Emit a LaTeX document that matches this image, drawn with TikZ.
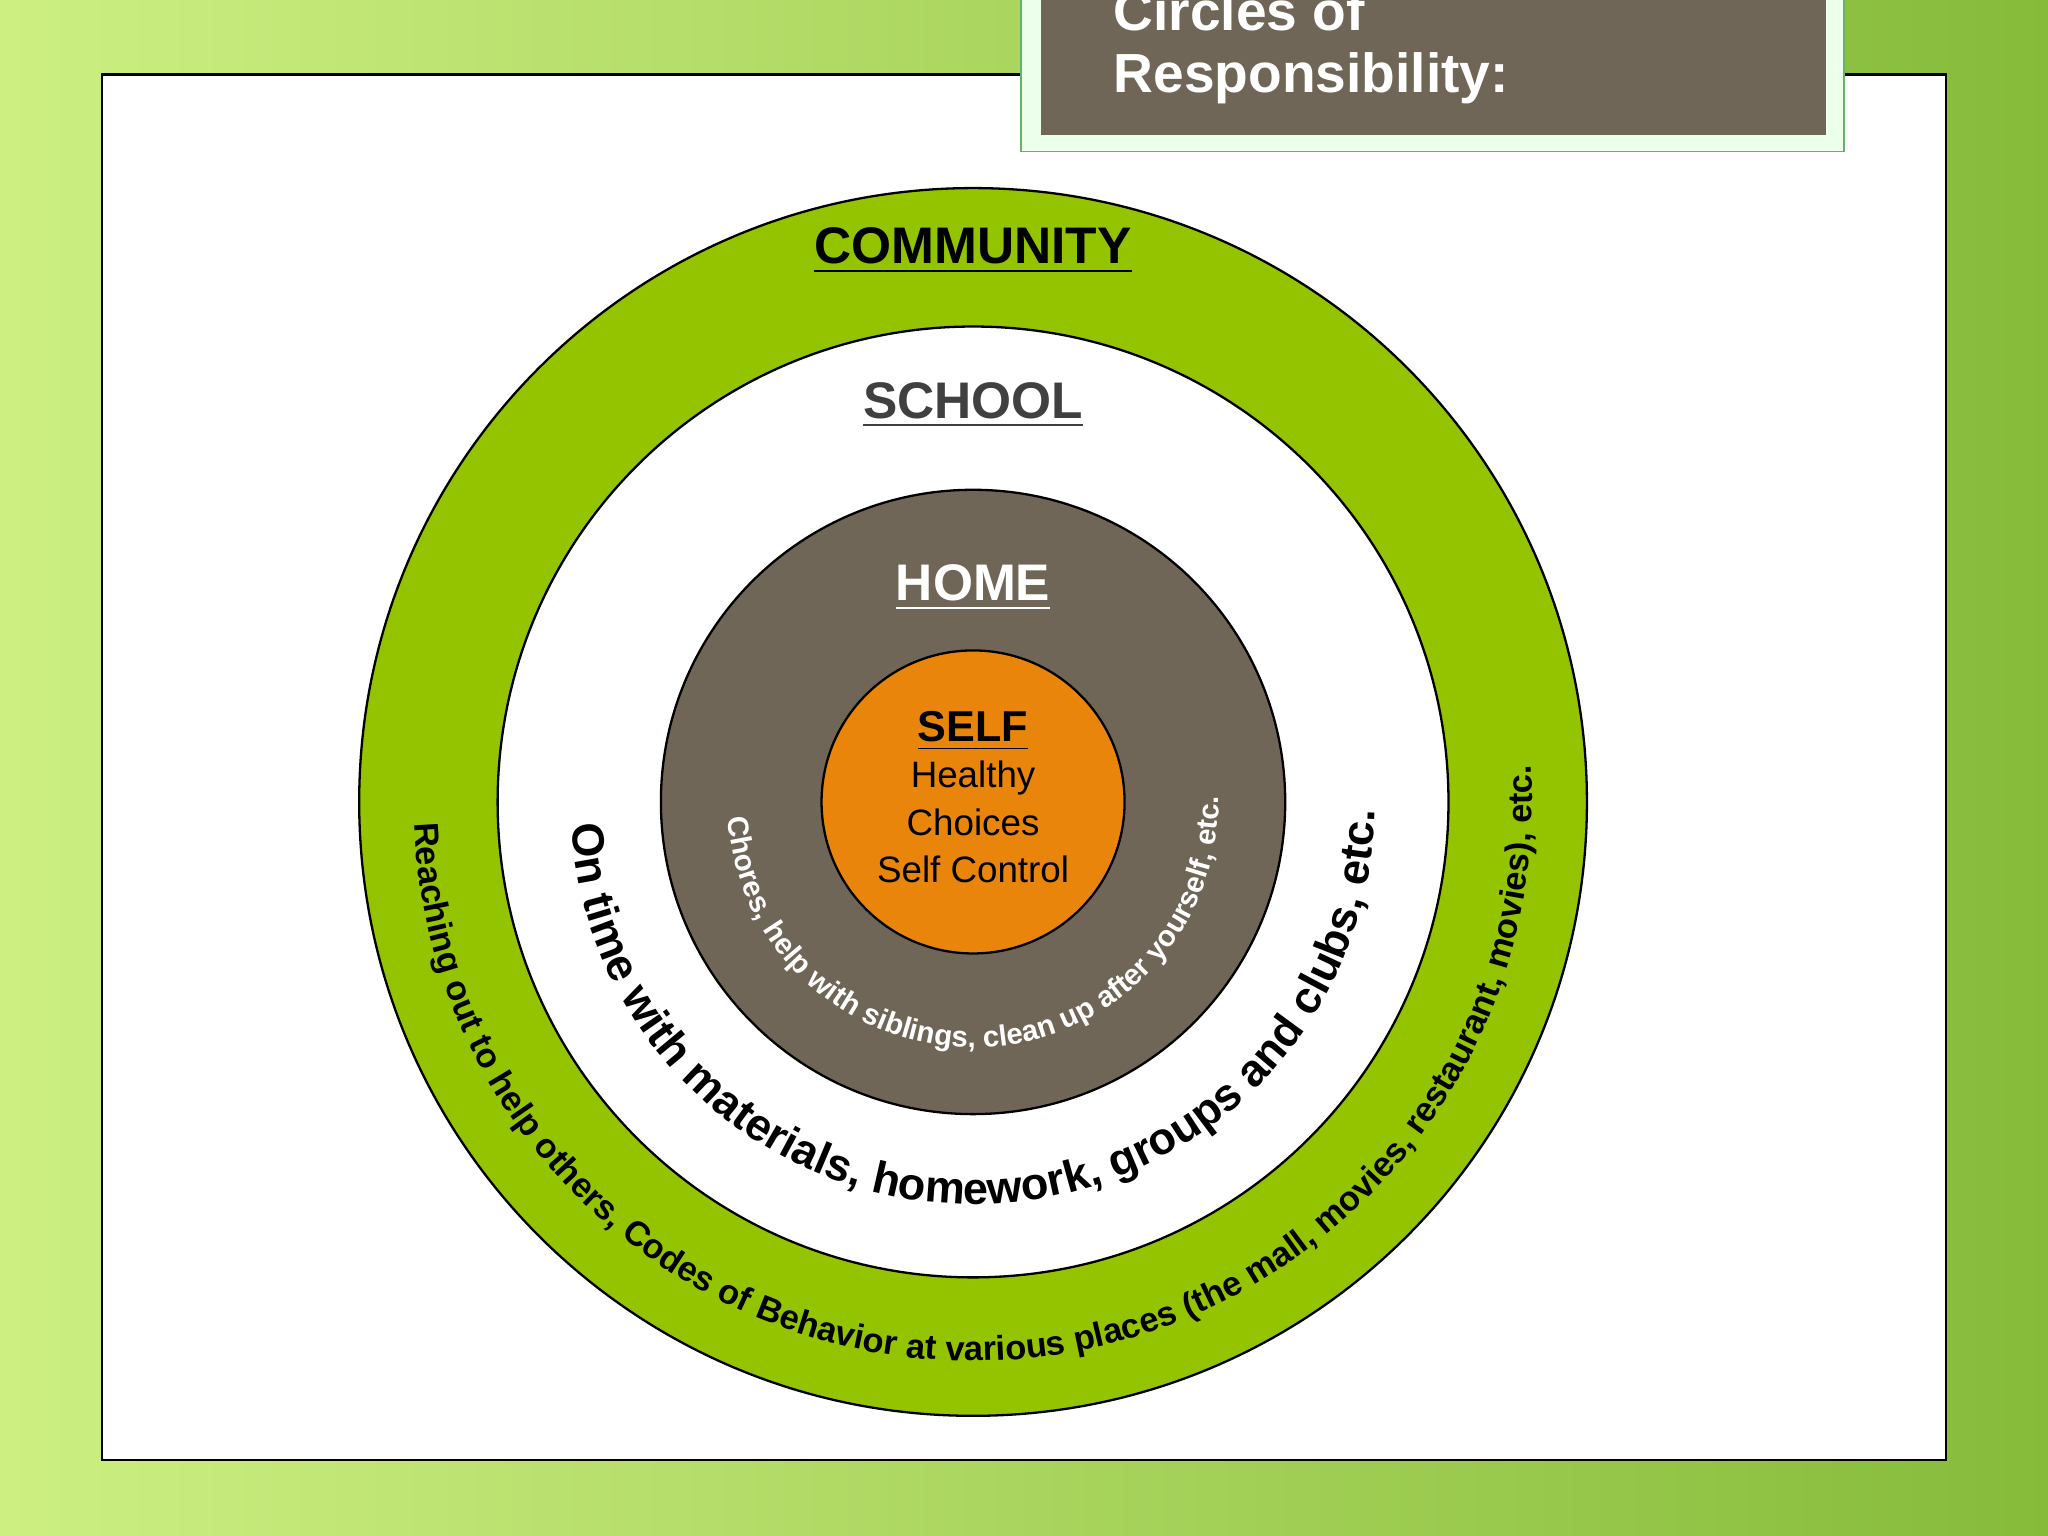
\documentclass[tikz,border=0pt]{standalone}
\usepackage{fontspec}
\setmainfont{Liberation Sans}
\setsansfont{Liberation Sans}
\usetikzlibrary{decorations.text}
\definecolor{ringgreen}{HTML}{94C400}
\definecolor{homegray}{HTML}{706657}
\definecolor{selforange}{HTML}{E8850A}
\definecolor{bgA}{HTML}{CDEF82}
\definecolor{bgB}{HTML}{86BB3A}
\tikzset{
  lbl/.style={font=\bfseries\fontsize{11.2pt}{14pt}\selectfont, inner sep=0},
  ring/.style={draw=black, line width=0.5pt},
}
\begin{document}
\begin{tikzpicture}[x=0.01cm,y=0.01cm]
\useasboundingbox (0,0) rectangle (1568,-1176);
\shade[left color=bgA, right color=bgB] (0,0) rectangle (1568,-1176);
\draw[fill=white, line width=0.5pt] (78,-57) rectangle (1490,-1118);
% title box
\draw[fill=white!92!green, draw=green!50!black!60] (782,2) rectangle (1412,-116);
\fill[homegray] (797,0) rectangle (1398,-103);
\begin{scope}
\clip (797,0) rectangle (1398,-103);
\node[anchor=west, text=white, font=\bfseries\fontsize{12pt}{14pt}\selectfont, inner sep=0] (t1) at (852,-8) {Circles of};
\end{scope}
\node[anchor=west, text=white, font=\bfseries\fontsize{12pt}{14pt}\selectfont, inner sep=0] (t2) at (852,-60) {Responsibility:};
% circles
\coordinate (c) at (745,-614);
\draw[ring, fill=ringgreen] (c) circle[radius=470];
\draw[ring, fill=white] (c) circle[radius=364];
\draw[ring, fill=homegray] (c) circle[radius=239];
\draw[ring, fill=selforange] (c) circle[radius=116];
\node[lbl] (comm) at (745,-192) {\underline{COMMUNITY}};
\node[lbl, text=black!75] (school) at (745,-310) {\underline{SCHOOL}};
\node[lbl, text=white] (home) at (745,-450) {\underline{HOME}};
\node[font=\bfseries\fontsize{9.4pt}{10pt}\selectfont, inner sep=0] (self) at (745,-560) {\underline{SELF}};
\node[font=\fontsize{8pt}{10.3pt}\selectfont, align=center, inner sep=0, anchor=north] (selftxt) at (745,-582) {Healthy\\Choices\\Self Control};
% curved texts
\path[decorate, decoration={text along path, text align=center,
  text={|\bfseries\fontsize{7.5pt}{8pt}\selectfont|Reaching out to help others, Codes of Behavior at various places (the mall, movies, restaurant, movies), etc.}}]
  (c) ++(180:428) arc[start angle=180, end angle=366, radius=428];
\path[decorate, decoration={text along path, text align=center,
  text={|\bfseries\fontsize{9.8pt}{10pt}\selectfont|On time with materials, homework, groups and clubs, etc.}}]
  (c) ++(180:308) arc[start angle=180, end angle=362, radius=308];
\path[decorate, decoration={text along path, text align=center, text color=white,
  text={|\bfseries\fontsize{6.4pt}{6pt}\selectfont|Chores, help with siblings, clean up after yourself, etc.}}]
  (c) ++(180:188) arc[start angle=180, end angle=365, radius=188];
\end{tikzpicture}
\end{document}
